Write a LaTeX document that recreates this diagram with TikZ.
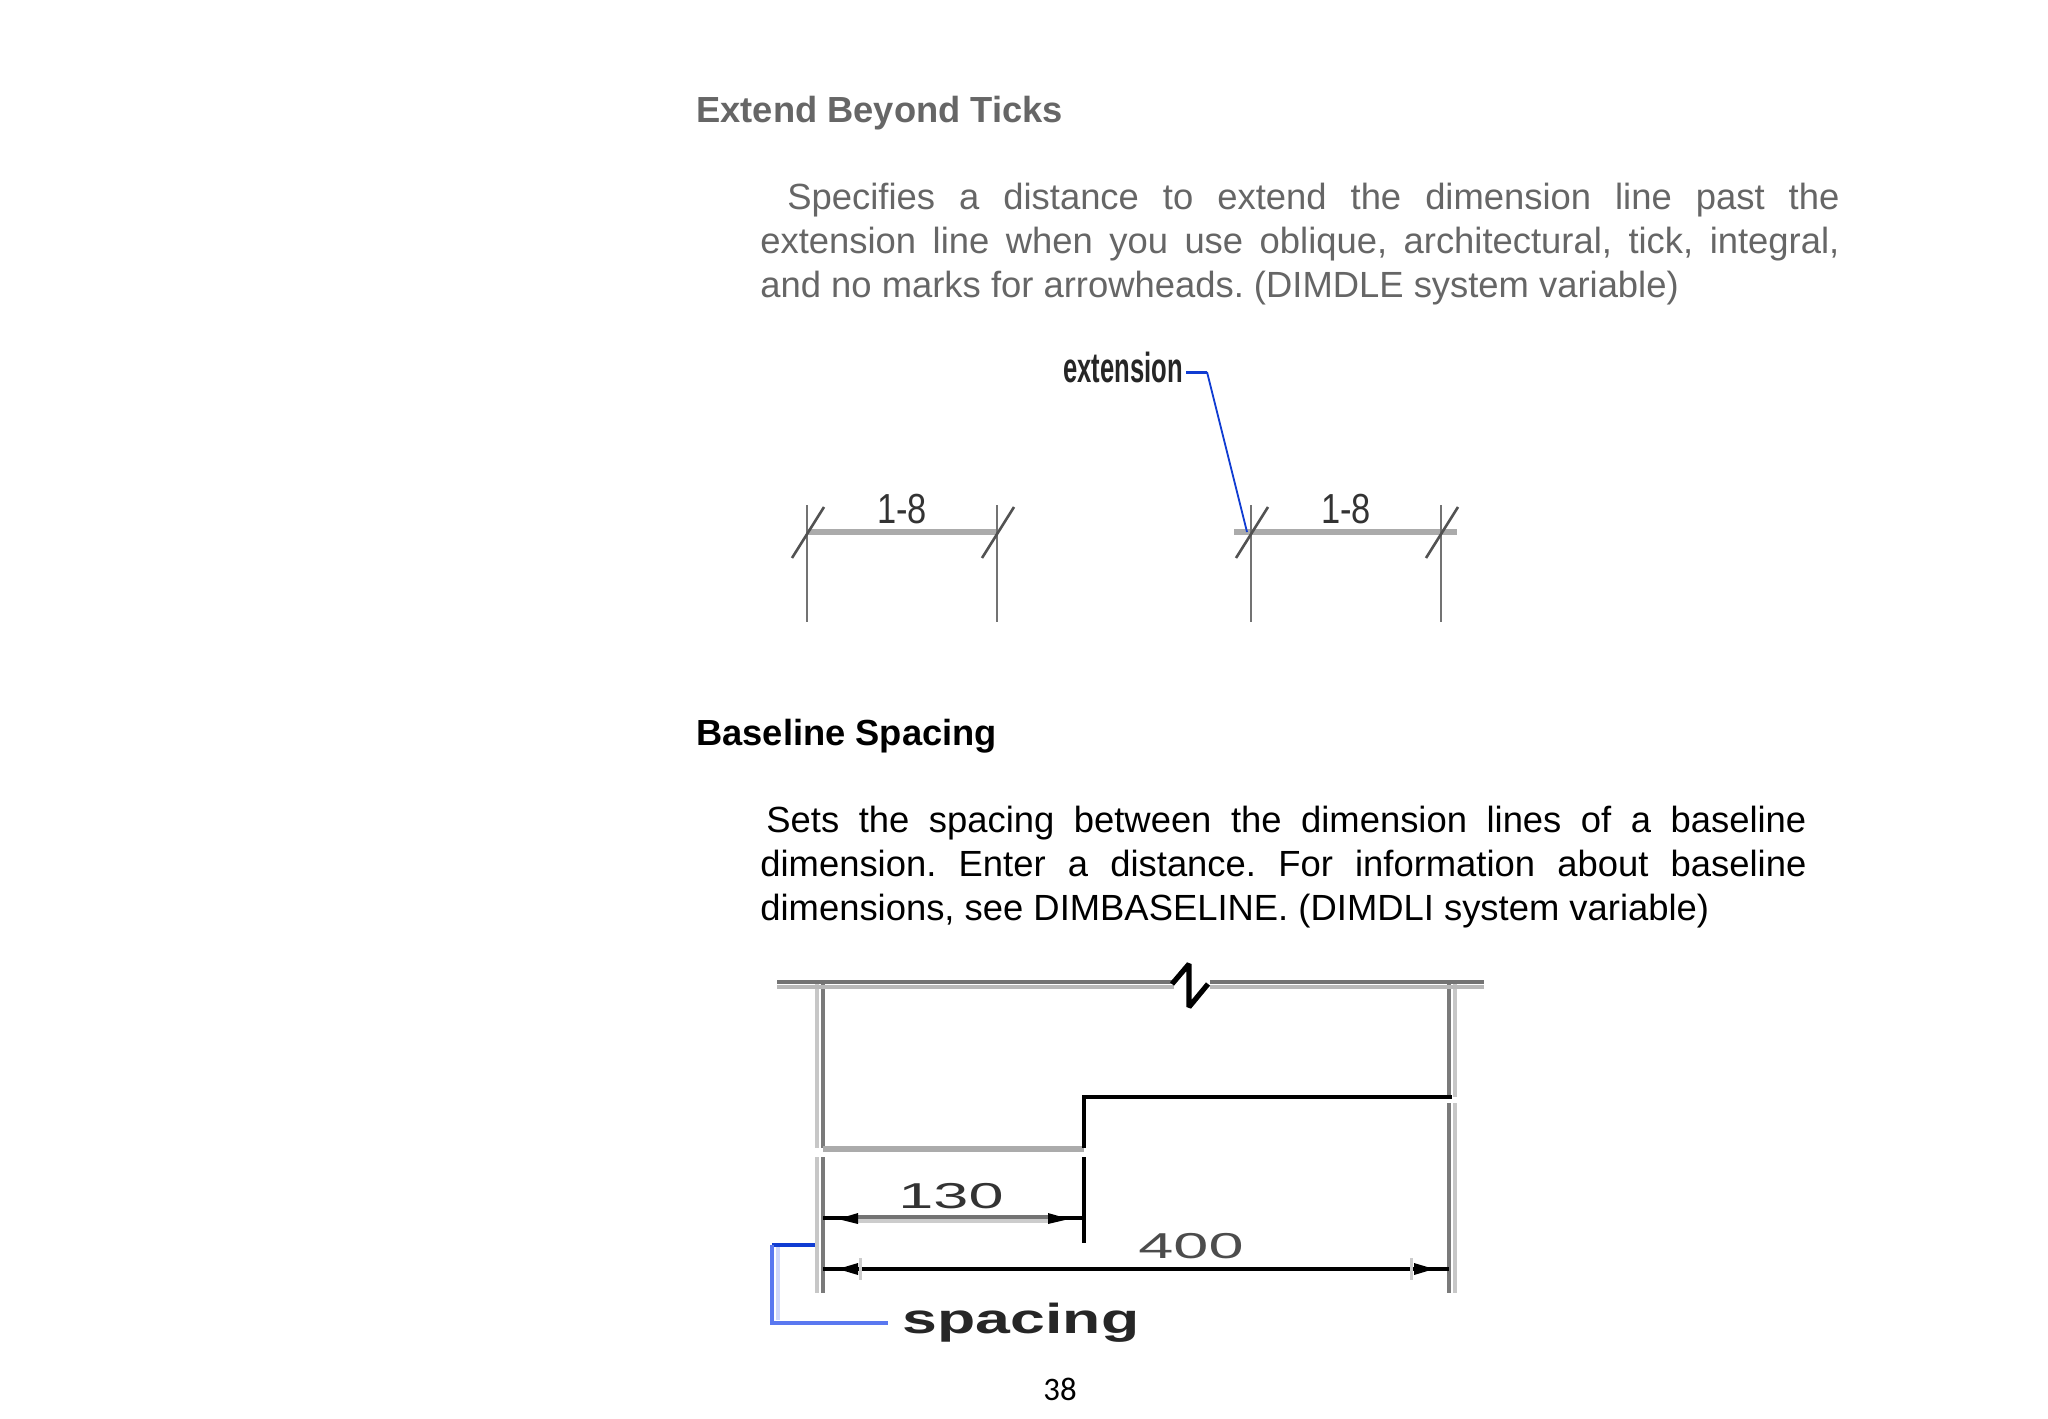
\documentclass[tikz,border=0pt]{standalone}
\usepackage{fontspec}
\setmainfont{Liberation Sans}
\newfontfamily\pagenofont{Carlito}
\newcommand{\jline}[2]{\makebox[#1][s]{#2}}
\newcommand{\squeeze}[2]{\scalebox{#1}[1]{#2}}
\frenchspacing
\tikzset{
  x=0.5pt, y=-0.5pt,
  hd/.style={anchor=base west, inner sep=0pt, font=\bfseries\fontsize{18.15}{22}\selectfont},
  body/.style={anchor=north west, inner sep=0pt, align=left, font=\fontsize{18.2}{22}\selectfont},
  lbl/.style={anchor=base, inner sep=0pt},
  extl/.style={draw=black!60, line width=1.3pt},
  extthin/.style={draw=black!55, line width=1.2pt},
  tickl/.style={draw=black!68, line width=1.3pt},
  dimthick/.style={draw=black!33, line width=3.4pt},
  wide/.style={draw=black!52, line width=2.4pt},
  haze/.style={draw=black!22, line width=2pt},
  blk/.style={draw=black, line width=2.2pt},
  lead/.style={draw=blue!78!black, line width=0.9pt},
}
\definecolor{bluedark}{RGB}{16,60,210}
\definecolor{bluemid}{RGB}{90,120,240}
\definecolor{bluepale}{RGB}{208,216,250}
\definecolor{txtgray}{RGB}{102,102,102}
\begin{document}
\begin{tikzpicture}
\useasboundingbox (0,0) rectangle (2048,1418);
\fill[white] (0,0) rectangle (2048,1418);

% --- texts
\node[hd, text=txtgray] (h1) at (696,122.5) {Extend Beyond Ticks};
\node[body, text=txtgray] (p1) at (760,183) {%
  \hspace*{13.5pt}\jline{526pt}{Specifies a distance to extend the dimension line past the}\\
  \jline{539.5pt}{extension line when you use oblique, architectural, tick, integral,}\\
  and no marks for arrowheads. (DIMDLE system variable)};
\node[hd] (h2) at (696,745) {Baseline Spacing};
\node[body] (p2) at (760,806) {%
  \hspace*{3pt}\jline{520pt}{Sets the spacing between the dimension lines of a baseline}\\
  \jline{523pt}{dimension. Enter a distance. For information about baseline}\\
  dimensions, see DIMBASELINE. (DIMDLI system variable)};

% --- upper figure
\node[lbl, font=\bfseries\fontsize{21}{21}\selectfont, text=black!85] (ext) at (1123,382) {\squeeze{.61}{extension}};
\node[lbl, font=\fontsize{21}{21}\selectfont, text=black!80] (d1) at (902,523) {\squeeze{.82}{1-8}};
\node[lbl, font=\fontsize{21}{21}\selectfont, text=black!80] (d2) at (1346,523) {\squeeze{.82}{1-8}};

\foreach \n/\xa/\xb/\l/\r in {a/807/997/807/997, b/1251/1441/1234/1457}{
  \coordinate (\n1) at (\xa,532);
  \coordinate (\n2) at (\xb,532);
  \draw[dimthick] (\l,532) -- (\r,532);
  \draw[extthin] (\xa,505) -- (\xa,622);
  \draw[extthin] (\xb,505) -- (\xb,622);
  \draw[tickl] (\xa-15,558) -- (\xa+17,507);
  \draw[tickl] (\xb-15,558) -- (\xb+17,507);
}
\coordinate (kn) at (1207,372);
\draw[draw=bluedark, line width=1.5pt] (ext.base east) ++(3,-10) -- (kn);
\draw[lead, draw=bluedark] (kn) -- (1247,532);

% --- lower figure: extension lines
\draw[haze] (817,983) -- (817,1148) (817,1157) -- (817,1293);
\draw[haze] (1455,983) -- (1455,1097) (1455,1103) -- (1455,1293);
\draw[wide] (823,983) -- (823,1148) (823,1157) -- (823,1293);
\draw[wide] (1449,983) -- (1449,1097) (1449,1103) -- (1449,1293);

% overall line with break
\draw[draw=black!28, line width=2pt] (777,987) -- (1174,987) (1210,987) -- (1484,987);
\draw[draw=black!55, line width=2.4pt] (777,982) -- (1174,982) (1210,982) -- (1484,982);
\draw[draw=black, line width=2.6pt, line join=bevel] (1172,984) -- (1189,964) -- (1189,1007) -- (1208,984);

% stepped line
\draw[dimthick] (823,1149) -- (1084,1149);
\draw[blk] (1084,1148) -- (1084,1097) -- (1452,1097);
\draw[blk] (1084,1157) -- (1084,1243);

% 130 dimension
\coordinate (A) at (823,1218);
\coordinate (B) at (1084,1218);
\draw[draw=black!20, line width=2pt] (855,1221) -- (1052,1221);
\draw[draw=black!55, line width=2pt] (855,1217) -- (1052,1217);
\draw[blk] (A) -- (855,1218) (1052,1218) -- (B);
\fill[black] (858,1213) -- (858,1224) -- (838,1219) -- cycle;
\fill[black] (1048,1213) -- (1048,1224) -- (1069,1219) -- cycle;
% 400 dimension
\coordinate (C) at (823,1269);
\coordinate (D) at (1449,1269);
\draw[blk] (C) -- (D);
\fill[black] (858,1263) -- (858,1275) -- (838,1269) -- cycle;
\fill[black] (1414,1263) -- (1414,1275) -- (1434,1269) -- cycle;
\draw[draw=black!20, line width=1.5pt] (860,1258) -- (860,1280) (1411,1258) -- (1411,1280);

% dimension texts
\node[lbl, font=\fontsize{18}{18}\selectfont, text=black!80] (t130) at (951,1208) {\squeeze{1.75}{130}};
\node[lbl, font=\fontsize{18}{18}\selectfont, text=black!70] (t400) at (1191,1258) {\squeeze{1.75}{400}};
\node[lbl, font=\bfseries\fontsize{21}{21}\selectfont, text=black!85] (sp) at (1021,1333) {\squeeze{1.49}{spacing}};

% leader
\coordinate (k1) at (772,1245);
\coordinate (k2) at (772,1323);
\draw[draw=bluepale, line width=1.6pt] (778,1247) -- (778,1320);
\draw[draw=bluedark, line width=1.7pt] (815,1245) -- (k1);
\draw[draw=bluemid, line width=1.9pt] (k1) -- (k2) -- (888,1323);

% page number
\node[lbl, font=\pagenofont\fontsize{16.4}{16}\selectfont] (pg) at (1060,1400) {38};
\end{tikzpicture}
\end{document}
